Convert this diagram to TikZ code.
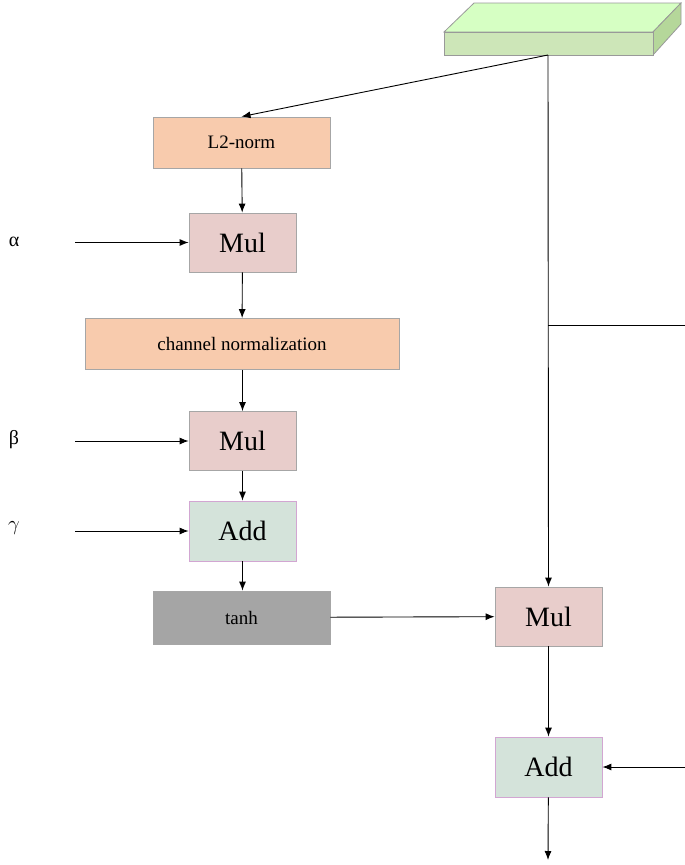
\documentclass[tikz,border=0pt]{standalone}
\usepackage{fontspec}
\setmainfont{Liberation Serif}
\usetikzlibrary{arrows.meta}
\definecolor{peach}{HTML}{F8CBAD}
\definecolor{pinkm}{HTML}{E8CDCB}
\definecolor{greena}{HTML}{D4E3DA}
\definecolor{greyt}{HTML}{A5A5A5}
\begin{document}
\begin{tikzpicture}[x=1pt,y=-1pt,
  box/.style={draw=gray!70,line width=0.8pt,minimum width=#1,inner sep=0pt},
  norm/.style={box=177pt,fill=peach,minimum height=51pt,font=\fontsize{19}{21}\selectfont},
  mul/.style={box=107pt,fill=pinkm,minimum height=59pt,font=\fontsize{28}{30}\selectfont},
  add/.style={box=107pt,fill=greena,draw=violet!35,minimum height=60pt,font=\fontsize{28}{30}\selectfont},
  arr/.style={-{Latex[length=9pt,width=7pt]},line width=0.9pt},
  lbl/.style={font=\fontsize{20}{22}\selectfont}]
\useasboundingbox (0,0) rectangle (685,865);
% 3D block
\draw[gray!80,line width=0.8pt,fill=green!15!white!90!lime] (444,32) -- (474,3) -- (681,3) -- (653,32) -- cycle;
\draw[gray!80,line width=0.8pt,fill={rgb,255:red,181;green,215;blue,154}] (653,32) -- (681,3) -- (681,24) -- (653,55) -- cycle;
\draw[gray!80,line width=0.8pt,fill={rgb,255:red,205;green,230;blue,184}] (444,32) rectangle (653,55);
\coordinate (src) at (548,55);
\node[norm] (l2) at (241.5,142.5) {L2-norm};
\node[mul] (m1) at (242.5,242.5) {Mul};
\node[norm,minimum width=314pt] (cn) at (242,344) {channel normalization};
\node[mul] (m2) at (242.5,441) {Mul};
\node[add] (a1) at (242.5,531) {Add};
\node[box=177pt,fill=greyt,minimum height=53pt,font=\fontsize{19}{21}\selectfont] (th) at (241.5,617.5) {tanh};
\node[mul] (m3) at (548.5,616.5) {Mul};
\node[add] (a2) at (548.5,767) {Add};
\node[lbl] (al) at (14,242) {α};
\node[lbl] (be) at (14,440) {β};
\node[lbl] (ga) at (14,528) {$\gamma$};
\coordinate (alx) at (75,242.5);
\coordinate (bex) at (75,441);
\coordinate (gax) at (75,531);
\draw[arr] (alx) -- (m1.west);
\draw[arr] (bex) -- (m2.west);
\draw[arr] (gax) -- (a1.west);
\draw[arr] (src) -- (l2.north);
\draw[arr] (l2) -- (m1);
\draw[arr] (m1) -- (cn);
\draw[arr] (cn.south -| m2.north) -- (m2);
\draw[arr] (m2) -- (a1);
\draw[arr] (a1) -- (a1|-th.north);
\draw[arr] (th) -- (m3);
\draw[arr] (src) -- (m3.north);
\coordinate (br) at (548,325);
\coordinate (rt) at (687,325);
\draw[arr] (br) -- (rt) |- (a2.east);
\draw[arr] (m3) -- (a2);
\coordinate (out) at (548,860);
\draw[arr] (a2) -- (out);
\end{tikzpicture}
\end{document}
